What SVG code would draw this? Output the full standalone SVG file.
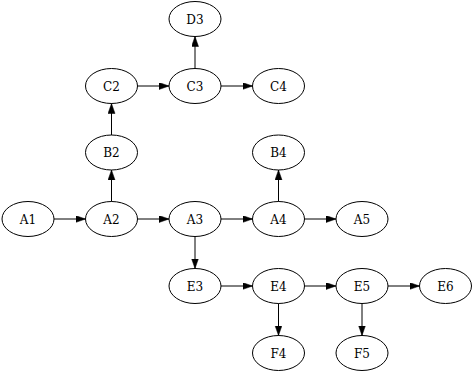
<svg xmlns="http://www.w3.org/2000/svg" width="474" height="374" viewBox="0 0 474 374">
<style>
.n ellipse{fill:none;stroke:#000;stroke-width:1}
.n text{font-family:"DejaVu Serif","Liberation Serif",serif;font-size:12px;text-anchor:middle;fill:#000}
.e line{stroke:#000;stroke-width:1;marker-end:url(#ah)}
</style>
<defs>
<marker id="ah" markerUnits="userSpaceOnUse" markerWidth="11" markerHeight="8" refX="10" refY="3.5" orient="auto">
<polygon points="0,0 10,3.5 0,7" fill="#000" stroke="#000" stroke-width="0.5"/>
</marker>
</defs>
<rect width="474" height="374" fill="#fff"/>
<g class="e" id="edges">
<line x1="54" y1="219" x2="85.5" y2="219"/>
<line x1="137.5" y1="219" x2="169" y2="219"/>
<line x1="221" y1="219" x2="252.5" y2="219"/>
<line x1="304.5" y1="219" x2="336" y2="219"/>
<line x1="111.5" y1="201.5" x2="111.5" y2="170"/>
<line x1="111.5" y1="135" x2="111.5" y2="103.5"/>
<line x1="137.5" y1="86" x2="169" y2="86"/>
<line x1="221" y1="86" x2="252.5" y2="86"/>
<line x1="195" y1="68.5" x2="195" y2="36.5"/>
<line x1="278.5" y1="201.5" x2="278.5" y2="170"/>
<line x1="195" y1="236.5" x2="195" y2="268.5"/>
<line x1="221" y1="286" x2="252.5" y2="286"/>
<line x1="304.5" y1="286" x2="336" y2="286"/>
<line x1="388" y1="286" x2="419.5" y2="286"/>
<line x1="278.5" y1="303.5" x2="278.5" y2="335.5"/>
<line x1="362" y1="303.5" x2="362" y2="335.5"/>
</g>
<g class="n" id="D3"><ellipse cx="195" cy="19" rx="26" ry="17.5"/><text x="195" y="23.5">D3</text></g>
<g class="n" id="C2"><ellipse cx="111.5" cy="86" rx="26" ry="17.5"/><text x="111.5" y="90.5">C2</text></g>
<g class="n" id="C3"><ellipse cx="195" cy="86" rx="26" ry="17.5"/><text x="195" y="90.5">C3</text></g>
<g class="n" id="C4"><ellipse cx="278.5" cy="86" rx="26" ry="17.5"/><text x="278.5" y="90.5">C4</text></g>
<g class="n" id="B2"><ellipse cx="111.5" cy="152.5" rx="26" ry="17.5"/><text x="111.5" y="157">B2</text></g>
<g class="n" id="B4"><ellipse cx="278.5" cy="152.5" rx="26" ry="17.5"/><text x="278.5" y="157">B4</text></g>
<g class="n" id="A1"><ellipse cx="28" cy="219" rx="26" ry="17.5"/><text x="28" y="223.5">A1</text></g>
<g class="n" id="A2"><ellipse cx="111.5" cy="219" rx="26" ry="17.5"/><text x="111.5" y="223.5">A2</text></g>
<g class="n" id="A3"><ellipse cx="195" cy="219" rx="26" ry="17.5"/><text x="195" y="223.5">A3</text></g>
<g class="n" id="A4"><ellipse cx="278.5" cy="219" rx="26" ry="17.5"/><text x="278.5" y="223.5">A4</text></g>
<g class="n" id="A5"><ellipse cx="362" cy="219" rx="26" ry="17.5"/><text x="362" y="223.5">A5</text></g>
<g class="n" id="E3"><ellipse cx="195" cy="286" rx="26" ry="17.5"/><text x="195" y="290.5">E3</text></g>
<g class="n" id="E4"><ellipse cx="278.5" cy="286" rx="26" ry="17.5"/><text x="278.5" y="290.5">E4</text></g>
<g class="n" id="E5"><ellipse cx="362" cy="286" rx="26" ry="17.5"/><text x="362" y="290.5">E5</text></g>
<g class="n" id="E6"><ellipse cx="445.5" cy="286" rx="26" ry="17.5"/><text x="445.5" y="290.5">E6</text></g>
<g class="n" id="F4"><ellipse cx="278.5" cy="353" rx="26" ry="17.5"/><text x="278.5" y="357.5">F4</text></g>
<g class="n" id="F5"><ellipse cx="362" cy="353" rx="26" ry="17.5"/><text x="362" y="357.5">F5</text></g>
</svg>
